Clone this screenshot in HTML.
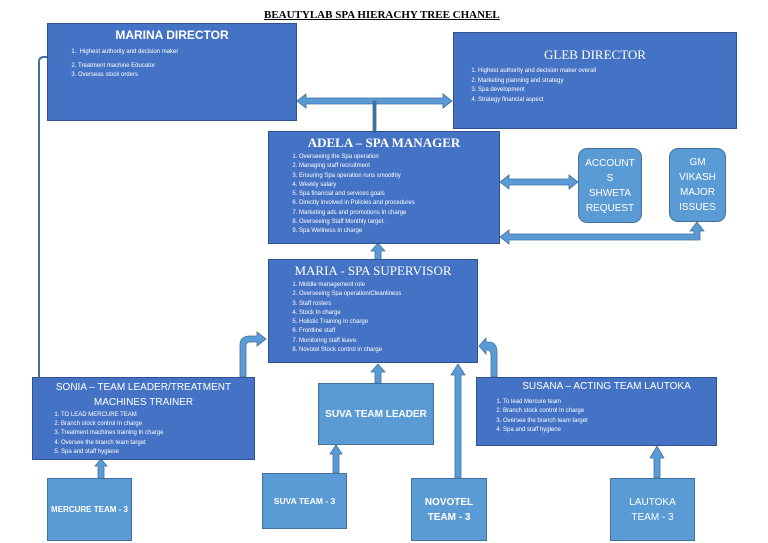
<!DOCTYPE html>
<html><head><style>
body{margin:0;width:768px;height:543px;background:#fff;position:relative;overflow:hidden;font-family:"Liberation Sans",sans-serif;}
.b{position:absolute;background:#4472C4;border:1px solid #2F528F;color:#fff;box-sizing:border-box;}
.l{position:absolute;background:#5B9BD5;border:1px solid #41719C;color:#fff;box-sizing:border-box;display:flex;align-items:center;justify-content:center;text-align:center;font-weight:bold;}
.t{text-align:center;font-size:12px;margin-top:4px;}
.s{font-family:"Liberation Serif",serif;}
ol{margin:4px 0 0 0;padding-left:30px;font-size:6px;line-height:9.5px;}
svg{position:absolute;left:0;top:0;}
</style></head><body>
<svg width="768" height="543">
<g fill="#5B9BD5" stroke="#41719C" stroke-width="0.8">
<path d="M306,98 L443,98 L443,94 L452,101 L443,108 L443,104 L306,104 L306,108 L297,101 L306,94Z"/>
<rect x="373" y="101" width="3" height="30" fill="#41719C"/>
<path d="M509,179 L569,179 L569,175 L578,182 L569,189 L569,185 L509,185 L509,189 L500,182 L509,175Z"/>
<path d="M509,234 L694,234 L694,231 L690,231 L697,222 L704,231 L700,231 L700,240 L509,240 L509,244 L500,237 L509,230Z"/>
<path d="M375,260 L375,251 L371,251 L378,243 L385,251 L381,251 L381,260Z"/>
<path d="M375,383 L375,372 L371,372 L378,364 L385,372 L381,372 L381,383Z"/>
<path d="M455,478 L455,375 L451,375 L458,364 L465,375 L461,375 L461,478Z"/>
<path d="M333,473 L333,454 L330,454 L336,445 L342,454 L339,454 L339,473Z"/>
<path d="M98,478 L98,466 L95,466 L101,459 L107,466 L104,466 L104,478Z"/>
<path d="M654,478 L654,458 L650,458 L657,446 L664,458 L660,458 L660,478Z"/>
<path d="M240,377 L240,345 Q240,336 250,336 L257,336 L257,332 L266,339 L257,346 L257,342 L250,342 Q246,342 246,346 L246,377Z"/>
<path d="M491,377 L491,356 Q491,350 487,350 L486,350 L486,354 L479,346 L486,338 L486,342 L488,342 Q497,342 497,352 L497,377Z"/>
</g>
<path d="M39,377 L39,62 Q39,57 44,57 L47,57" fill="none" stroke="#41719C" stroke-width="2"/>
</svg>
<div style="position:absolute;left:264px;top:9px;font-family:'Liberation Serif',serif;font-weight:bold;font-size:11px;text-decoration:underline;">BEAUTYLAB SPA HIERACHY TREE CHANEL</div>
<div class="b" style="left:47px;top:23px;width:250px;height:98px;"><div class="t" style="font-weight:bold;">MARINA DIRECTOR</div><ol style="margin-top:6px"><li>&nbsp;Highest authority and decision maker</li><li style="margin-top:4px">Treatment machine Educator</li><li>Overseas stock orders</li></ol></div>
<div class="b" style="left:453px;top:32px;width:284px;height:97px;"><div class="t s" style="font-size:13px;margin-top:14px;">GLEB DIRECTOR</div><ol style="padding-left:24px"><li>Highest authority and decision maker overall</li><li>Marketing planning and strategy</li><li>Spa development</li><li>Strategy financial aspect</li></ol></div>
<div class="b" style="left:268px;top:131px;width:232px;height:113px;"><div class="t s" style="font-weight:bold;font-size:13px;margin-top:3px;">ADELA – SPA MANAGER</div><ol style="margin-top:2px;line-height:9.3px"><li>Overseeing the Spa operation</li><li>Managing staff recruitment</li><li>Ensuring Spa operation runs smoothly</li><li>Weekly salary</li><li>Spa financial and services goals</li><li>Directly involved in Policies and procedures</li><li>Marketing ads and promotions In charge</li><li>Overseeing Staff Monthly target.</li><li>Spa Wellness In charge</li></ol></div>
<div class="l" style="left:578px;top:148px;width:64px;height:75px;border-radius:9px;font-weight:normal;font-size:10px;line-height:15px;">ACCOUNT<br>S<br>SHWETA<br>REQUEST</div>
<div class="l" style="left:669px;top:148px;width:57px;height:74px;border-radius:9px;font-weight:normal;font-size:10px;line-height:15px;">GM<br>VIKASH<br>MAJOR<br>ISSUES</div>
<div class="b" style="left:268px;top:259px;width:210px;height:104px;"><div class="t s" style="font-size:13px;margin-top:3px;">MARIA - SPA SUPERVISOR</div><ol style="margin-top:2px;line-height:9.3px"><li>Middle management role</li><li>Overseeing Spa operation/Cleanliness</li><li>Staff rosters</li><li>Stock In charge</li><li>Holistic Training In charge</li><li>Frontline staff</li><li>Monitoring staff leave.</li><li>Novotel Stock control in charge</li></ol></div>
<div class="b" style="left:32px;top:377px;width:223px;height:83px;"><div class="t" style="font-size:10px;line-height:15px;margin-top:2px;">SONIA – TEAM LEADER/TREATMENT<br>MACHINES TRAINER</div><ol style="margin-top:1px;padding-left:28px;line-height:9.2px"><li>TO LEAD MERCURE TEAM</li><li>Branch stock control In charge</li><li>Treatment machines training In charge</li><li>Oversee the branch team target</li><li>Spa and staff hygiene</li></ol></div>
<div class="l" style="left:318px;top:383px;width:116px;height:62px;font-size:10px;">SUVA TEAM LEADER</div>
<div class="b" style="left:476px;top:377px;width:241px;height:69px;"><div class="t" style="font-size:10px;margin-top:3px;padding-left:20px;">SUSANA – ACTING TEAM LAUTOKA</div><ol style="margin-top:6px;padding-left:26px;line-height:9.3px"><li>To lead Mercure team</li><li>Branch stock control In charge</li><li>Oversee the branch team target</li><li>Spa and staff hygiene</li></ol></div>
<div class="l" style="left:47px;top:478px;width:85px;height:63px;font-size:8px;">MERCURE TEAM - 3</div>
<div class="l" style="left:262px;top:473px;width:85px;height:56px;font-size:8.5px;">SUVA TEAM - 3</div>
<div class="l" style="left:411px;top:478px;width:76px;height:63px;font-size:10px;line-height:15px;">NOVOTEL<br>TEAM - 3</div>
<div class="l" style="left:610px;top:478px;width:85px;height:63px;font-size:10px;line-height:15px;font-weight:normal;">LAUTOKA<br>TEAM - 3</div>
</body></html>
